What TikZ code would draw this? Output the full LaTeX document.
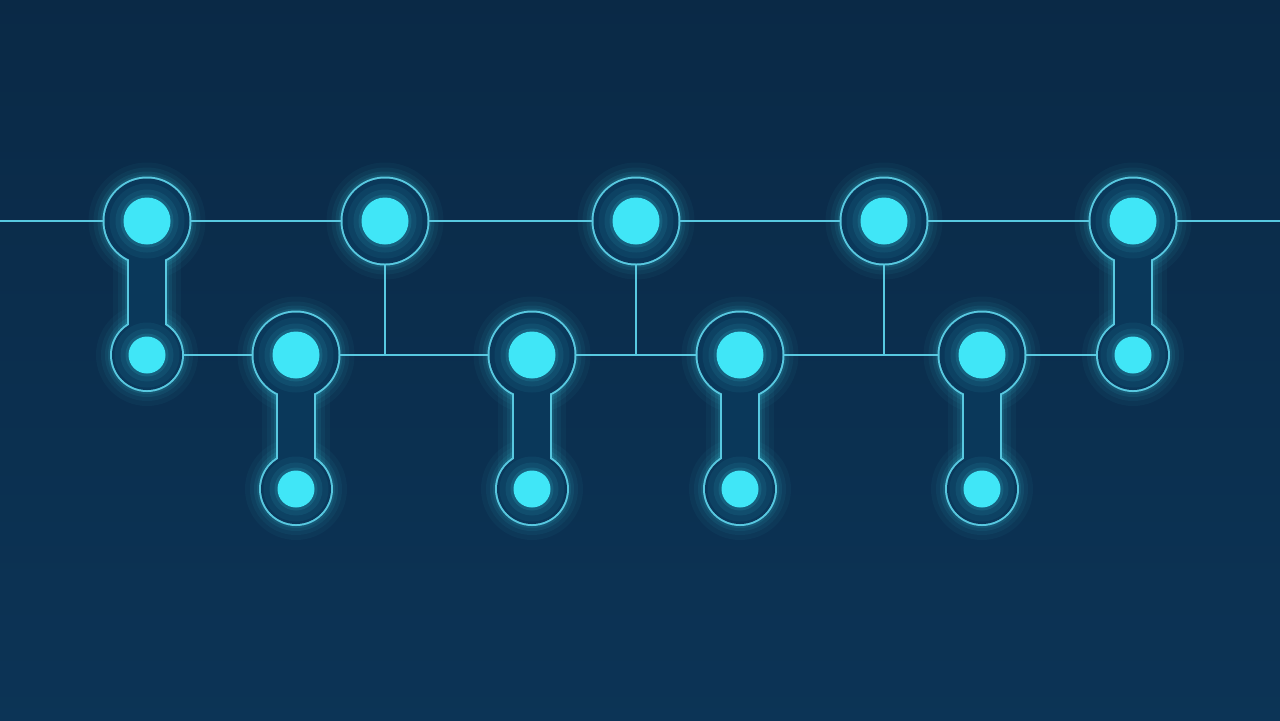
\documentclass[tikz,border=0pt]{standalone}
\usetikzlibrary{calc}
\definecolor{bgtop}{HTML}{0A2946}
\definecolor{bgbot}{HTML}{0C3456}
\definecolor{wire}{HTML}{58C8E0}
\definecolor{hole}{HTML}{0A385A}
\definecolor{core}{HTML}{40E6F7}

\begin{document}
\begin{tikzpicture}[x=0.1mm,y=-0.1mm,
  wire/.style={draw=wire,line width=0.2mm},
  rim/.style={draw=wire,line width=0.4mm},
  halo/.style={fill=core,opacity=#1}]

% centres: r = ring radius, d = disk radius
\foreach \n/\x/\y in {t1/147/221,t2/385/221,t3/636/221,t4/884/221,t5/1133/221,
  m1/147/355,m2/296/355,m3/532/355,m4/740/355,m5/982/355,m6/1133/355,
  b1/296/489,b2/532/489,b3/740/489,b4/982/489}
  \coordinate (\n) at (\x,\y);
\coordinate (lft) at (0,221);
\coordinate (rgt) at (1280,221);

\useasboundingbox (0,0) rectangle (1280,720);
\shade[top color=bgtop,bottom color=bgbot] (-10,-10) rectangle (1290,730);

\def\rings{t1/42.5/23.5,t2/42.5/23.5,t3/42.5/23.5,t4/42.5/23.5,t5/42.5/23.5,
  m1/35/18.5,m2/42.5/23.5,m3/42.5/23.5,m4/42.5/23.5,m5/42.5/23.5,m6/35/18.5,
  b1/35/18.5,b2/35/18.5,b3/35/18.5,b4/35/18.5}
\def\bars{t1/m1,t5/m6,m2/b1,m3/b2,m4/b3,m5/b4}

% glow
\foreach \g/\o in {16/0.04,11/0.05,7/0.07,4/0.09} {
  \foreach \n/\r/\d in \rings
    \fill[halo=\o] (\n) circle (\r+\g);
  \foreach \a/\b in \bars
    \fill[halo=\o] ($(\a)+(-18-\g,0)$) rectangle ($(\b)+(18+\g,0)$);
}

% connectors
\draw[wire] (lft) -- (t1) -- (t2) -- (t3) -- (t4) -- (t5) -- (rgt);
\draw[wire] (m1) -- (m6);
\foreach \n in {t2,t3,t4}
  \draw[wire] (\n) -- (\n |- m1);

% outlines, then interiors
\foreach \n/\r/\d in \rings
  \draw[rim] (\n) circle (\r);
\foreach \a/\b in \bars
  \draw[rim] ($(\a)+(-18,0)$) rectangle ($(\b)+(18,0)$);
\foreach \n/\r/\d in \rings
  \fill[hole] (\n) circle (\r);
\foreach \a/\b in \bars
  \fill[hole] ($(\a)+(-18,0)$) rectangle ($(\b)+(18,0)$);

% disks
\foreach \n/\r/\d in \rings {
  \fill[halo=0.06] (\n) circle (\d+14);
  \fill[halo=0.08] (\n) circle (\d+8);
  \fill[halo=0.12] (\n) circle (\d+3);
  \fill[core] (\n) circle (\d);
}

\end{tikzpicture}
\end{document}
